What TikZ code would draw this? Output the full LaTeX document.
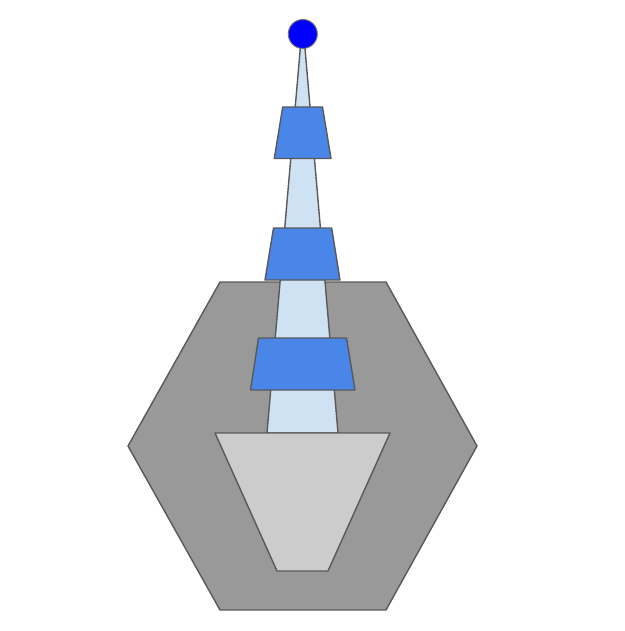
\documentclass[tikz,border=0pt]{standalone}
\begin{document}
\begin{tikzpicture}[x=1pt,y=-1pt,
  part/.style={draw=black!65,line width=1.4pt,line join=round},
  hexa/.style={part,fill=black!40},
  cupfill/.style={part,fill=black!20},
  towerfill/.style={part,fill={rgb,255:red,207;green,226;blue,243}},
  ringfill/.style={part,fill={rgb,255:red,74;green,134;blue,232}},
  tipfill/.style={part,fill={rgb,255:red,0;green,0;blue,255},line width=1pt,draw=black!55}]
\useasboundingbox[fill=white] (0,0) rectangle (624,631);
% hexagon base
\draw[hexa] (220,282) -- (386,282) -- (477,446) -- (386,610) -- (220,610) -- (128,446) -- cycle;
% tower shaft
\draw[towerfill] (300.5,46) -- (304.8,46) -- (338,433) -- (267,433) -- cycle;
% cup
\draw[cupfill] (215,433) -- (390,433) -- (328,571) -- (277,571) -- cycle;
% rings
\draw[ringfill] (282.7,107) -- (322.5,107) -- (331,158.5) -- (274.3,158.5) -- cycle;
\draw[ringfill] (273.5,228) -- (331.7,228) -- (340,280) -- (265,280) -- cycle;
\draw[ringfill] (258.5,338) -- (346.5,338) -- (355,390) -- (250.5,390) -- cycle;
% tip
\draw[tipfill] (302.8,34) circle[radius=14.5];
\end{tikzpicture}
\end{document}
